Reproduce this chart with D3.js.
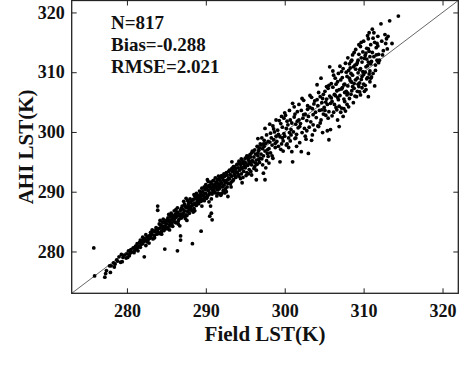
<!DOCTYPE html>
<html>
<head>
<meta charset="utf-8">
<script src="https://cdn.jsdelivr.net/npm/d3@7"></script>
<style>
  html, body { margin: 0; padding: 0; background: #fff; }
  svg { display: block; font-family: 'Liberation Serif', 'Times New Roman', serif; font-weight: bold; }
</style>
</head>
<body>
<div id="chart"></div>
<script>
const WIDTH = 474
const HEIGHT = 373

// axis ticks and ranges (K)
const xTicks = [280, 290, 300, 310, 320]
const yTicks = [280, 290, 300, 310, 320]
const xDomain = [273, 322]
const yDomain = [273, 322]
const oneToOne = [273, 322]

// summary stats shown in the corner
const statLines = ['N=817', 'Bias=-0.288', 'RMSE=2.021']

// [field LST, AHI LST]
const points = [
  [275.8, 280.6], [275.9, 275.9],
  [277.2, 275.7], [277.3, 276.3], [277.4, 276.8], [277.9, 276.5], [277.8, 277.6],
  [278.0, 277.6], [278.3, 278.1], [278.5, 277.9], [278.7, 278.6], [278.8, 278.4], [278.4, 277.4],
  [279.0, 279.1], [279.2, 278.2], [279.4, 278.3], [279.5, 279.0], [279.7, 279.4], [279.3, 279.5], [279.9, 278.9],
  [280.0, 279.6], [280.2, 280.1], [280.3, 279.3], [280.4, 279.7], [280.5, 280.3], [280.6, 279.9], [280.8, 280.6], [280.9, 279.8], [280.1, 279.0],
  [281.0, 280.2], [281.1, 280.9], [281.2, 280.5], [281.3, 281.3], [281.4, 280.1], [281.5, 280.9], [281.6, 281.5], [281.7, 280.7], [281.8, 281.2], [281.9, 281.6], [281.3, 280.6], [281.7, 281.9],
  [282.0, 281.3], [282.1, 282.0], [282.2, 279.1], [282.2, 281.7], [282.3, 282.2], [282.4, 281.0], [282.5, 281.8], [282.6, 282.5], [282.7, 282.0], [282.8, 281.4], [282.9, 282.7], [282.4, 282.8], [282.6, 281.6], [282.9, 282.2], [282.0, 282.4],
  [283.0, 282.4], [283.1, 283.0], [283.2, 282.8], [283.3, 282.1], [283.4, 283.4], [283.5, 282.7], [283.6, 283.3], [283.7, 284.0], [283.8, 282.9], [283.9, 283.3], [283.9, 287.6], [283.9, 286.9], [283.2, 283.6], [283.5, 282.3], [283.7, 283.7], [283.0, 283.2],
  [284.0, 283.8], [284.1, 283.0], [284.2, 283.9], [284.3, 284.4], [284.4, 283.4], [284.5, 284.2], [284.6, 283.7], [284.7, 284.8], [284.8, 280.4], [284.8, 284.1], [284.9, 285.0], [284.1, 284.6], [284.3, 283.2], [284.5, 284.9], [284.7, 283.5], [284.9, 284.3], [284.2, 285.2], [284.6, 285.4], [284.4, 282.9], [284.8, 283.8],
  [285.0, 284.6], [285.1, 285.3], [285.2, 284.0], [285.3, 285.0], [285.4, 284.5], [285.5, 285.8], [285.6, 284.8], [285.7, 285.3], [285.8, 284.2], [285.9, 285.9], [285.1, 283.8], [285.3, 286.2], [285.5, 284.3], [285.7, 286.0], [285.9, 285.1], [285.2, 285.6], [285.4, 283.6], [285.6, 286.4], [285.8, 285.5], [285.0, 285.2], [285.7, 284.6], [285.4, 285.2],
  [286.0, 285.4], [286.1, 286.2], [286.2, 284.8], [286.3, 285.9], [286.4, 280.1], [286.4, 286.6], [286.5, 285.1], [286.6, 286.0], [286.7, 284.3], [286.8, 282.6], [286.8, 281.9], [286.8, 286.9], [286.9, 285.6], [286.0, 286.8], [286.2, 285.7], [286.4, 287.3], [286.5, 284.6], [286.7, 286.3], [286.9, 287.2], [286.1, 284.9], [286.3, 286.4], [286.6, 285.4], [286.8, 285.9], [286.2, 287.0],
  [287.0, 286.3], [287.1, 287.1], [287.2, 285.9], [287.3, 286.8], [287.4, 287.6], [287.5, 286.1], [287.6, 287.3], [287.7, 286.7], [287.8, 288.0], [287.9, 287.0], [287.0, 287.6], [287.2, 288.4], [287.4, 285.5], [287.6, 286.0], [287.8, 287.5], [287.1, 286.0], [287.3, 287.9], [287.5, 287.4], [287.7, 288.5], [287.9, 286.4], [287.5, 288.9], [287.2, 286.5], [287.9, 288.2], [287.6, 285.2],
  [288.0, 287.4], [288.1, 288.3], [288.2, 286.9], [288.3, 281.3], [288.3, 287.9], [288.4, 288.7], [288.5, 287.2], [288.6, 288.1], [288.7, 289.0], [288.8, 287.7], [288.9, 288.5], [288.0, 288.8], [288.2, 287.6], [288.4, 286.6], [288.6, 289.3], [288.8, 288.9], [288.1, 287.0], [288.3, 288.6], [288.5, 289.5], [288.7, 287.9], [288.9, 289.4], [288.4, 287.8], [288.6, 286.8], [288.8, 289.7],
  [289.0, 288.2], [289.1, 289.0], [289.2, 288.6], [289.3, 289.6], [289.4, 283.4], [289.4, 288.4], [289.5, 289.3], [289.6, 290.0], [289.7, 288.8], [289.8, 289.7], [289.9, 290.4], [289.0, 289.4], [289.2, 290.1], [289.4, 289.9], [289.6, 288.6], [289.8, 290.8], [289.1, 288.0], [289.3, 288.9], [289.5, 290.6], [289.7, 289.4], [289.9, 289.1], [289.5, 287.6], [289.8, 288.5], [289.2, 289.3],
  [290.0, 289.7], [290.1, 290.5], [290.2, 289.2], [290.3, 290.2], [290.4, 291.0], [290.5, 285.9], [290.5, 289.8], [290.6, 290.6], [290.7, 286.4], [290.8, 285.3], [290.7, 291.3], [290.8, 289.6], [290.9, 290.9], [290.0, 291.2], [290.2, 290.8], [290.4, 289.5], [290.6, 291.6], [290.8, 290.3], [290.1, 288.9], [290.3, 291.7], [290.5, 290.9], [290.7, 288.8], [290.9, 291.8], [290.4, 288.3], [290.6, 287.6], [290.2, 292.0], [290.9, 289.9],
  [291.0, 290.4], [291.1, 291.2], [291.2, 289.8], [291.3, 290.9], [291.4, 289.3], [291.4, 291.6], [291.5, 290.3], [291.6, 291.3], [291.7, 292.1], [291.8, 290.8], [291.9, 291.7], [291.0, 291.9], [291.2, 292.3], [291.4, 290.6], [291.6, 289.7], [291.8, 292.5], [291.1, 290.0], [291.3, 291.5], [291.5, 292.0], [291.7, 290.5], [291.9, 289.4], [291.5, 291.0], [291.8, 291.2], [291.2, 290.7], [291.6, 292.6],
  [292.0, 291.4], [292.0, 289.7], [292.1, 290.8], [292.2, 292.0], [292.3, 291.1], [292.4, 292.6], [292.5, 290.5], [292.6, 291.9], [292.7, 292.8], [292.8, 289.2], [292.8, 291.4], [292.9, 292.3], [292.0, 292.7], [292.2, 290.2], [292.4, 291.7], [292.6, 293.2], [292.8, 292.0], [292.1, 292.4], [292.3, 293.0], [292.5, 291.5], [292.7, 290.8], [292.9, 293.4], [292.4, 289.8], [292.6, 290.0],
  [293.0, 292.2], [293.1, 292.9], [293.2, 291.6], [293.3, 295.0], [293.3, 292.6], [293.4, 293.4], [293.5, 294.2], [293.5, 292.0], [293.6, 293.0], [293.7, 293.8], [293.8, 292.4], [293.9, 293.3], [293.0, 293.6], [293.2, 290.8], [293.4, 291.8], [293.6, 294.1], [293.8, 293.9], [293.1, 291.3], [293.3, 293.9], [293.7, 292.7], [293.9, 294.5], [293.5, 293.5],
  [294.0, 293.2], [294.1, 294.0], [294.2, 292.6], [294.3, 293.6], [294.4, 294.6], [294.5, 293.0], [294.6, 291.5], [294.6, 293.9], [294.7, 294.9], [294.8, 293.4], [294.9, 294.3], [294.0, 294.6], [294.2, 295.1], [294.4, 292.2], [294.6, 295.3], [294.8, 294.7], [294.1, 292.9], [294.3, 294.9], [294.5, 295.5], [294.7, 292.4], [294.9, 295.0], [294.5, 294.1],
  [295.0, 294.0], [295.1, 294.8], [295.2, 293.2], [295.3, 294.4], [295.4, 295.4], [295.5, 293.7], [295.6, 294.9], [295.7, 295.8], [295.8, 292.8], [295.8, 294.5], [295.9, 295.2], [295.0, 295.6], [295.2, 296.0], [295.4, 293.0], [295.6, 296.2], [295.8, 296.5], [295.1, 292.7], [295.3, 295.9], [295.5, 294.7], [295.7, 293.4], [295.9, 296.8], [295.5, 295.1],
  [296.0, 295.0], [296.1, 295.8], [296.2, 294.2], [296.3, 296.3], [296.4, 292.0], [296.4, 295.3], [296.5, 294.6], [296.6, 298.9], [296.6, 297.5], [296.6, 296.0], [296.7, 296.9], [296.8, 294.9], [296.9, 295.6], [296.0, 296.7], [296.2, 297.0], [296.4, 293.6], [296.6, 296.5], [296.8, 297.3], [296.1, 293.9], [296.3, 294.8], [296.5, 297.6], [296.7, 295.4], [296.9, 298.0],
  [297.0, 296.3], [297.1, 295.5], [297.2, 297.2], [297.3, 293.1], [297.3, 296.0], [297.4, 297.6], [297.5, 292.0], [297.5, 300.6], [297.5, 296.8], [297.6, 298.1], [297.7, 295.2], [297.8, 297.0], [297.9, 298.4], [297.0, 297.8], [297.2, 294.5], [297.4, 298.6], [297.6, 294.0], [297.8, 296.4], [297.1, 299.0], [297.3, 298.0], [297.7, 299.5], [297.9, 295.9],
  [298.0, 297.2], [298.1, 301.3], [298.1, 298.3], [298.2, 296.5], [298.3, 299.0], [298.4, 297.8], [298.5, 295.6], [298.6, 298.7], [298.7, 300.0], [298.8, 297.4], [298.9, 302.0], [298.9, 299.3], [298.2, 299.8], [298.4, 296.0], [298.6, 300.5], [298.8, 298.1], [298.0, 294.8], [298.5, 301.0],
  [299.0, 298.4], [299.1, 300.3], [299.2, 297.6], [299.4, 295.0], [299.4, 299.2], [299.5, 301.4], [299.6, 298.0], [299.7, 300.8], [299.8, 296.8], [299.9, 299.7], [299.3, 301.9], [299.5, 297.1], [299.7, 299.0], [299.9, 302.3], [299.2, 299.6], [299.6, 302.6], [299.8, 298.5],
  [300.0, 299.3], [300.1, 302.8], [300.2, 300.6], [300.3, 298.0], [300.4, 301.2], [300.5, 297.4], [300.6, 299.9], [300.7, 302.0], [300.8, 300.4], [300.9, 296.7], [300.0, 303.2], [300.3, 301.8], [300.5, 299.0], [300.7, 298.5], [300.9, 301.5], [300.2, 297.8], [300.6, 303.6], [300.8, 299.5], [301.0, 295.0], [301.0, 304.8],
  [301.1, 300.0], [301.2, 302.5], [301.3, 298.9], [301.4, 301.3], [301.5, 299.6], [301.6, 303.4], [301.7, 300.7], [301.8, 302.0], [301.9, 298.2], [301.2, 304.2], [301.4, 299.0], [301.6, 301.8], [301.8, 304.6], [301.5, 297.6], [301.9, 300.9], [301.3, 303.0],
  [302.0, 301.4], [302.1, 296.7], [302.1, 303.6], [302.2, 299.9], [302.3, 302.3], [302.4, 305.3], [302.5, 300.6], [302.6, 303.0], [302.7, 298.8], [302.8, 301.9], [302.9, 304.4], [302.2, 305.6], [302.4, 302.9], [302.6, 299.3], [302.8, 300.2], [302.9, 303.8],
  [303.0, 296.4], [303.0, 302.6], [303.1, 300.8], [303.2, 304.1], [303.3, 301.7], [303.4, 305.8], [303.5, 299.5], [303.6, 302.9], [303.7, 304.7], [303.8, 300.3], [303.9, 303.3], [303.2, 306.1], [303.4, 298.6], [303.6, 301.2], [303.8, 305.2], [303.5, 303.9],
  [304.0, 302.4], [304.1, 307.9], [304.2, 304.4], [304.3, 300.9], [304.4, 303.6], [304.5, 305.9], [304.6, 309.0], [304.6, 302.0], [304.7, 304.9], [304.8, 299.9], [304.9, 303.0], [304.1, 305.4], [304.3, 306.6], [304.5, 301.5], [304.7, 303.7], [304.9, 306.3], [304.2, 301.0], [304.8, 305.6],
  [305.0, 304.1], [305.1, 306.8], [305.2, 302.8], [305.3, 305.5], [305.4, 300.2], [305.4, 304.6], [305.5, 307.3], [305.6, 298.7], [305.6, 303.4], [305.7, 310.9], [305.7, 306.0], [305.8, 300.4], [305.8, 304.8], [305.9, 308.1], [305.1, 303.6], [305.3, 307.6], [305.5, 302.3], [305.9, 305.7], [305.2, 305.0], [305.6, 307.8],
  [306.0, 305.1], [306.1, 307.5], [306.2, 303.3], [306.3, 306.3], [306.4, 309.0], [306.5, 304.1], [306.6, 306.9], [306.7, 302.0], [306.7, 308.4], [306.8, 305.4], [306.9, 300.9], [306.9, 307.1], [306.1, 310.2], [306.3, 304.6], [306.5, 308.0], [306.7, 305.8], [306.0, 302.7], [306.2, 309.5], [306.4, 306.1], [306.6, 303.7], [306.8, 309.8], [306.9, 304.3],
  [307.0, 306.1], [307.1, 308.7], [307.2, 304.0], [307.3, 307.4], [307.4, 310.6], [307.5, 305.5], [307.6, 308.0], [307.7, 303.5], [307.8, 306.8], [307.9, 309.3], [307.0, 311.0], [307.2, 307.2], [307.4, 302.6], [307.6, 305.1], [307.8, 310.0], [307.1, 303.3], [307.3, 309.1], [307.5, 307.9], [307.7, 311.5], [307.9, 306.2], [307.5, 303.9], [307.2, 310.1], [307.6, 306.6], [307.9, 304.6],
  [308.0, 307.7], [308.1, 310.3], [308.2, 305.6], [308.3, 308.6], [308.4, 311.8], [308.5, 306.9], [308.6, 309.5], [308.7, 304.9], [308.8, 308.1], [308.9, 311.2], [308.0, 312.4], [308.2, 309.0], [308.4, 306.3], [308.6, 312.9], [308.8, 307.3], [308.1, 304.2], [308.3, 310.7], [308.5, 308.3], [308.7, 310.9], [308.9, 306.0], [308.4, 309.8], [308.6, 307.6], [308.2, 311.4], [308.8, 313.3], [308.0, 306.5], [308.5, 312.0],
  [309.0, 308.7], [309.1, 311.3], [309.2, 306.8], [309.3, 309.9], [309.4, 313.0], [309.5, 308.2], [309.6, 306.2], [309.6, 310.6], [309.7, 312.4], [309.8, 307.4], [309.9, 310.1], [309.0, 313.8], [309.2, 311.6], [309.4, 307.6], [309.6, 314.3], [309.8, 309.3], [309.1, 305.9], [309.3, 312.0], [309.5, 310.4], [309.7, 308.8], [309.9, 313.4], [309.5, 306.7], [309.2, 309.0], [309.8, 311.7], [309.4, 314.6], [309.0, 310.5], [309.7, 315.0], [309.3, 308.0],
  [310.0, 309.6], [310.1, 312.3], [310.2, 307.8], [310.3, 310.9], [310.4, 314.0], [310.5, 309.1], [310.6, 305.9], [310.6, 311.7], [310.7, 313.5], [310.8, 308.4], [310.9, 311.4], [310.0, 315.2], [310.2, 312.8], [310.4, 308.9], [310.6, 315.6], [310.8, 310.2], [310.1, 306.8], [310.3, 313.2], [310.5, 311.1], [310.7, 309.7], [310.9, 314.6], [310.5, 316.1], [310.2, 310.0], [310.8, 312.6], [310.4, 312.2], [310.0, 308.0], [310.7, 316.6], [310.3, 307.1], [310.9, 309.0], [310.6, 313.9],
  [311.0, 311.8], [311.1, 317.2], [311.1, 313.3], [311.2, 309.8], [311.3, 312.6], [311.4, 307.7], [311.4, 315.0], [311.5, 311.2], [311.6, 314.1], [311.7, 312.0], [311.8, 316.0], [311.9, 313.0], [311.0, 309.2], [311.2, 315.7], [311.5, 310.3], [311.7, 314.8], [311.3, 316.6], [311.9, 311.6], [311.6, 312.9], [311.8, 314.4],
  [312.0, 312.0], [312.2, 318.1], [312.3, 315.2], [312.5, 313.6], [312.7, 316.3], [312.8, 314.8], [312.4, 312.9], [312.9, 315.6],
  [313.1, 316.0], [313.3, 318.6], [313.6, 314.8], [313.0, 313.9],
  [314.4, 319.4]
]

const margin = { left: 71.7, right: WIDTH - 458.3, top: 0.5, bottom: HEIGHT - 293.3 }

const x = d3.scaleLinear()
  .domain(xDomain)
  .range([margin.left, WIDTH - margin.right])

const y = d3.scaleLinear()
  .domain(yDomain)
  .range([HEIGHT - margin.bottom, margin.top])

const svg = d3.select('#chart')
  .append('svg')
  .attr('width', WIDTH)
  .attr('height', HEIGHT)

svg.append('rect')
  .attr('width', WIDTH)
  .attr('height', HEIGHT)
  .attr('fill', '#fff')

// 1:1 line
svg.append('line')
  .attr('x1', x(oneToOne[0]))
  .attr('y1', y(oneToOne[0]))
  .attr('x2', x(oneToOne[1]))
  .attr('y2', y(oneToOne[1]))
  .attr('stroke', '#555')
  .attr('stroke-width', 0.9)

svg.append('g')
  .selectAll('circle')
  .data(points)
  .join('circle')
  .attr('cx', d => x(d[0]))
  .attr('cy', d => y(d[1]))
  .attr('r', 1.9)
  .attr('fill', '#000')

// axes: MATLAB style, ticks pointing inward on all four sides
const TICK = 5
const axisB = svg.append('g')
  .attr('transform', `translate(0, ${y.range()[0]})`)
  .call(d3.axisBottom(x).tickValues(xTicks).tickSize(-TICK).tickPadding(11))
const axisT = svg.append('g')
  .attr('transform', `translate(0, ${y.range()[1]})`)
  .call(d3.axisTop(x).tickValues(xTicks).tickSize(-TICK).tickFormat(''))
const axisL = svg.append('g')
  .attr('transform', `translate(${x.range()[0]}, 0)`)
  .call(d3.axisLeft(y).tickValues(yTicks).tickSize(-TICK).tickPadding(7))
const axisR = svg.append('g')
  .attr('transform', `translate(${x.range()[1]}, 0)`)
  .call(d3.axisRight(y).tickValues(yTicks).tickSize(-TICK).tickFormat(''))

;[axisB, axisT, axisL, axisR].forEach(g => {
  g.select('.domain').remove()
  g.selectAll('line').attr('stroke', '#222').attr('stroke-width', 1)
  g.selectAll('text')
    .attr('fill', '#111')
    .style('font-family', "'Liberation Serif', 'Times New Roman', serif")
    .style('font-weight', 'bold')
    .style('font-size', '18px')
})

svg.append('rect')
  .attr('x', x.range()[0])
  .attr('y', y.range()[1])
  .attr('width', x.range()[1] - x.range()[0])
  .attr('height', y.range()[0] - y.range()[1])
  .attr('fill', 'none')
  .attr('stroke', '#222')
  .attr('stroke-width', 1.3)

// axis titles
svg.append('text')
  .attr('x', (x.range()[0] + x.range()[1]) / 2)
  .attr('y', 341)
  .attr('text-anchor', 'middle')
  .attr('font-size', 21)
  .attr('fill', '#111')
  .text('Field LST(K)')

svg.append('text')
  .attr('transform', `translate(33, ${(y.range()[0] + y.range()[1]) / 2}) rotate(-90)`)
  .attr('text-anchor', 'middle')
  .attr('font-size', 21)
  .attr('fill', '#111')
  .text('AHI LST(K)')

// stats block
svg.append('g')
  .selectAll('text')
  .data(statLines)
  .join('text')
  .attr('x', 111)
  .attr('y', (d, i) => 29.3 + i * 22)
  .attr('font-size', 19)
  .attr('fill', '#111')
  .text(d => d)
</script>
</body>
</html>
